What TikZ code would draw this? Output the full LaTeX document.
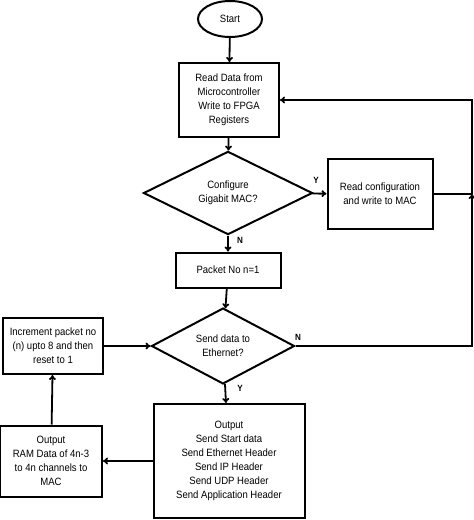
\documentclass[tikz,border=0pt]{standalone}
\usepackage{fontspec}
\setmainfont{Liberation Sans}[FakeStretch=0.9]
\usetikzlibrary{shapes.geometric,arrows.meta}
\begin{document}
\begin{tikzpicture}[x=1pt,y=-1pt,
  every node/.style={font=\fontsize{10.6}{14}\selectfont, align=center, line width=2pt, inner sep=0pt},
  proc/.style={draw, rectangle},
  dec/.style={draw, diamond},
  term/.style={draw, ellipse},
  conn/.style={line width=1.8pt, -{To[length=5pt,width=7pt]}},
  plain/.style={line width=1.8pt},
  lab/.style={font=\fontsize{9}{11}\selectfont\bfseries}]
\useasboundingbox (0,0) rectangle (474,520);
\node[term, minimum width=64, minimum height=36] (start) at (230,19) {Start};
\node[proc, minimum width=100, minimum height=74] (read) at (229,100) {Read Data from\\Microcontroller\\Write to FPGA\\Registers};
\node[dec, minimum width=169, minimum height=67] (cfg) at (228,193) {Configure\\Gigabit MAC?};
\node[proc, minimum width=105, minimum height=70] (rcfg) at (380,194) {Read configuration\\and write to MAC};
\node[proc, minimum width=105, minimum height=35] (pkt) at (228,270) {Packet No n=1};
\node[dec, minimum width=143, minimum height=63] (send) at (223,346) {Send data to\\Ethernet?};
\node[proc, minimum width=100, minimum height=56] (inc) at (53,346) {Increment packet no\\(n) upto 8 and then\\reset to 1};
\node[proc, minimum width=151, minimum height=114] (out) at (229,461) {Output\\Send Start data\\Send Ethernet Header\\Send IP Header\\Send UDP Header\\Send Application Header};
\node[proc, minimum width=102, minimum height=71] (ram) at (51,461) {Output\\RAM Data of 4n-3\\to 4n channels to\\MAC};
\coordinate (rtop) at (472,100);
\coordinate (rmid) at (472,194);
\coordinate (rbot) at (472,346);
\draw[conn] (start) -- (read);
\draw[conn] (read) -- (cfg);
\draw[conn] (cfg) -- (rcfg);
\draw[conn] (cfg) -- (pkt);
\draw[conn] (pkt) -- (send);
\draw[conn] (send) -- (out);
\draw[conn] (out) -- (ram);
\draw[conn] (ram) -- (inc);
\draw[conn] (inc) -- (send);
\draw[plain] (rcfg.east) -- (rmid);
\draw[conn] (send.east) -- (rbot) -- (rmid);
\draw[conn] (rmid) -- (rtop) -- (read.east);
\node[lab] (ly) at (316,180) {Y};
\node[lab] (ln) at (240,240) {N};
\node[lab] (ln2) at (298,337) {N};
\node[lab] (ly2) at (240,388) {Y};
\end{tikzpicture}
\end{document}
